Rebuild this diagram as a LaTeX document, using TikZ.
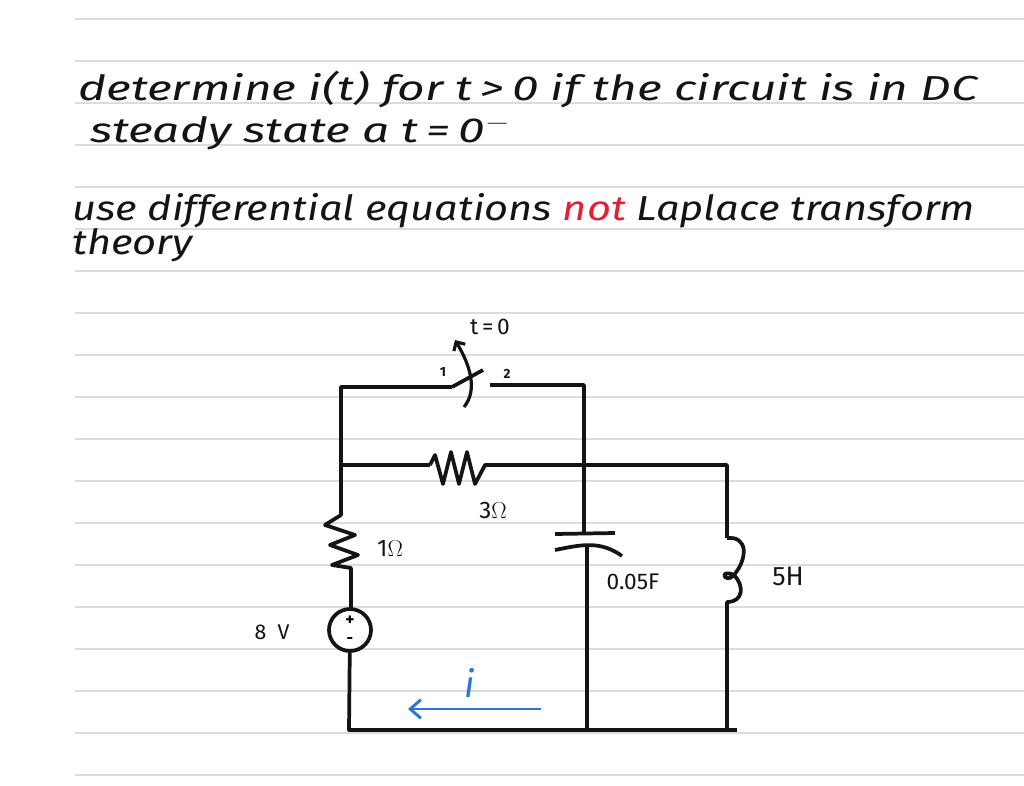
\documentclass[tikz,border=0pt]{standalone}
\usepackage{fontspec}
\setmainfont{Fira Sans}
\usetikzlibrary{arrows.meta}
\definecolor{rule}{RGB}{220,220,220}
\definecolor{ink}{RGB}{20,20,20}
\definecolor{blueink}{RGB}{40,120,220}
\definecolor{redink}{RGB}{230,30,50}
\tikzset{w/.style={draw=ink,line width=2.8pt,line join=round},
 lbl/.style={text=ink,font=\fontsize{15}{15}\selectfont,inner sep=0pt},
 hand/.style={text=ink,font=\fontsize{26}{26}\selectfont\itshape,inner sep=0pt,anchor=base west,xscale=1.38,transform shape}}
\begin{document}
\begin{tikzpicture}[x=0.75pt,y=-0.75pt]
\useasboundingbox (0,0) rectangle (1024,785);
\fill[white] (0,0) rectangle (1024,785);
\foreach \k in {0,...,18} \draw[rule,line width=0.8pt] (75,19+42*\k) -- (1024,19+42*\k);
% text
\node[hand] (l1) at (78,100) {determine i(t) for t\,>\,0 if the circuit is in DC};
\node[hand] (l2) at (90,142) {steady state a t\,=\,0$^{-}$};
\node[hand,xscale=0.87] (l3) at (72,220) {use differential equations \textcolor{redink}{not} Laplace transform};
\node[hand,xscale=0.87] (l4) at (72,254) {theory};
% coordinates
\coordinate (a) at (341,387); \coordinate (sw1) at (452,387);
\coordinate (sw2) at (490,385); \coordinate (b) at (584,385);
\coordinate (c) at (341,465); \coordinate (r3a) at (430,465); \coordinate (r3b) at (492,465);
\coordinate (d) at (584,465); \coordinate (e) at (727,465);
\coordinate (l1a) at (727,538); \coordinate (l1b) at (727,602);
\coordinate (f) at (727,730); \coordinate (g) at (587,730); \coordinate (h) at (349,730);
\coordinate (r1a) at (341,515); \coordinate (r1b) at (351,570);
\coordinate (cp1) at (584,533); \coordinate (cp2) at (587,546);
% wires
\draw[w] (sw1) -- (a) -- (c) -- (r3a);
\draw[w] (sw1) -- (483,370);
\draw[w] (sw2) -- (b) -- (d) -- (cp1);
\draw[w] (r3a) -- (435,455) -- (443,484) -- (451,452) -- (459,484) -- (467,452) -- (475,484) -- (485,465) -- (r3b) -- (d) -- (e) -- (l1a);
\draw[w] (c) -- (r1a) -- (325,525) -- (355,535) -- (330,545) -- (358,555) -- (332,565) -- (351,568) -- (351,608);
\node[w,circle,minimum size=42pt*0.75,inner sep=0pt] (src) at (350,630) {};
\node[font=\fontsize{13}{13}\selectfont\bfseries,inner sep=0pt] (plus) at (350,621) {+};
\node[font=\fontsize{12}{12}\selectfont\bfseries,inner sep=0pt] (minus) at (350,640) {-};
\draw[w] (src) -- (h) -- (g) -- (f);
\draw[w] (555,534) -- (615,533);
\draw[w] (555,550) .. controls (580,545) and (600,540) .. (622,556);
\draw[w] (cp2) -- (g);
\draw[w] (l1a) .. controls (748,536) and (748,558) .. (734,575) .. controls (725,585) and (718,568) .. (734,575) .. controls (744,585) and (744,602) .. (l1b) -- (f);
\draw[w] (g) -- (737,730);
% switch arrow
\draw[ink,line width=2.4pt,-{Straight Barb[length=5pt]}] (464,407) .. controls (478,390) and (470,365) .. (455,340);
% labels
\node[lbl,font=\fontsize{17}{17}\selectfont] (t0) at (490,327) {t\,=\,0};
\node[lbl,font=\fontsize{10}{10}\selectfont\bfseries] (n1) at (443,372) {1};
\node[lbl,font=\fontsize{10}{10}\selectfont\bfseries] (n2) at (507,374) {2};
\node[lbl,font=\fontsize{18}{18}\selectfont] (R3) at (493,510) {3$\Omega$};
\node[lbl,font=\fontsize{18}{18}\selectfont] (R1) at (390,548) {1$\Omega$};
\node[lbl,font=\fontsize{17}{17}\selectfont] (C) at (633,582) {0.05F};
\node[lbl,font=\fontsize{20}{20}\selectfont] (L) at (788,576) {5H};
\node[lbl,font=\fontsize{16}{16}\selectfont] (V) at (272,632) {8\ \ V};
\node[text=blueink,font=\fontsize{28}{28}\selectfont\itshape,inner sep=0pt] (cur) at (470,683) {i};
\coordinate (ia) at (541,709); \coordinate (ib) at (408,709);
\draw[blueink,line width=2.2pt,-{Straight Barb[length=8pt,width=14pt]}] (ia) -- (ib);
\end{tikzpicture}
\end{document}
